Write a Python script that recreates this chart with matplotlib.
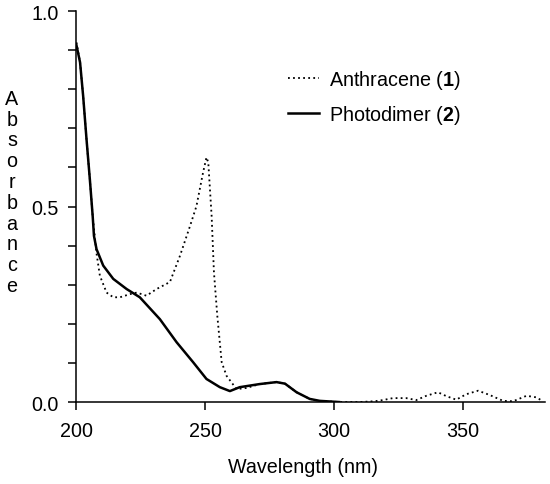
import numpy as np
import matplotlib.pyplot as plt
from matplotlib.ticker import MultipleLocator

plt.rcParams['font.family'] = 'Liberation Sans'
plt.rcParams['mathtext.fontset'] = 'custom'
plt.rcParams['mathtext.rm'] = 'Liberation Sans'
plt.rcParams['mathtext.bf'] = 'Liberation Sans:bold'

# Photodimer (2), solid line
wl_dimer = [200, 201.4, 202.6, 203.9, 205.2, 206.3, 206.8, 207.8, 210.4, 214.3, 219.5,
            224.6, 232.4, 238.9, 245.3, 250.5, 255.7, 259.6, 263.4, 271.2, 277.7, 281,
            285.5, 290.6, 294.5, 302]
abs_dimer = [0.913, 0.869, 0.783, 0.673, 0.57, 0.476, 0.425, 0.391, 0.349, 0.315, 0.289,
             0.268, 0.212, 0.153, 0.102, 0.059, 0.038, 0.028, 0.038, 0.046, 0.051, 0.047,
             0.025, 0.008, 0.003, 0.0]

# Anthracene (1), dotted line
wl_anth = [200, 201.4, 202.6, 203.9, 205.2, 206.3, 207.8, 209.1, 211.7, 214.3, 216.9,
           220.8, 223.4, 227.2, 231.1, 236.3, 240.2, 244.1, 246.6, 249.2, 250.5, 251.2,
           252.5, 253.4, 254.7, 256.4, 258.3, 262.2, 266, 271.2, 277.7, 281, 285.5,
           290.6, 294.5, 302, 310, 315.8, 319, 322.9, 328.1, 332, 335.9, 340.4, 343.7,
           347.5, 351.4, 356, 360.5, 365.7, 369.6, 374.8, 378.6, 381.2]
abs_anth = [0.92, 0.869, 0.783, 0.673, 0.57, 0.476, 0.38, 0.323, 0.28, 0.268, 0.268,
            0.276, 0.28, 0.272, 0.289, 0.307, 0.374, 0.45, 0.501, 0.588, 0.626, 0.613,
            0.476, 0.332, 0.221, 0.102, 0.067, 0.033, 0.036, 0.046, 0.051, 0.047, 0.025,
            0.008, 0.003, 0.0, 0.0, 0.002, 0.005, 0.01, 0.01, 0.005, 0.016, 0.025, 0.015,
            0.006, 0.02, 0.029, 0.018, 0.003, 0.002, 0.016, 0.012, 0.002]

fig = plt.figure(figsize=(5.5, 4.85), dpi=100)
ax = fig.add_axes([0.139, 0.169, 0.852, 0.806])

ax.plot(wl_anth, abs_anth, color='black', lw=1.3, linestyle=(0, (1, 1.8)),
        label=r'Anthracene ($\mathbf{1}$)')
ax.plot(wl_dimer, abs_dimer, color='black', lw=1.8, label=r'Photodimer ($\mathbf{2}$)')

ax.set_xlim(200, 382)
ax.set_ylim(0, 1.0)
ax.set_xticks([200, 250, 300, 350])
ax.set_yticks([0.0, 0.5, 1.0])
ax.yaxis.set_minor_locator(MultipleLocator(0.1))
ax.set_yticklabels(['0.0', '0.5', '1.0'])

for s in ['top', 'right']:
    ax.spines[s].set_visible(False)
for s in ['left', 'bottom']:
    ax.spines[s].set_linewidth(1.1)

ax.tick_params(which='both', direction='out', length=6, width=1.1, labelsize=14.2)
ax.tick_params(axis='y', pad=7)
ax.tick_params(axis='x', pad=8)

ax.set_xlabel('Wavelength (nm)', fontsize=14.2)
ax.xaxis.set_label_coords(0.483, -0.14)
fig.text(12 / 550, 1 - 193 / 485, '\n'.join('Absorbance'), fontsize=14.2,
         ha='center', va='center', linespacing=1.12)

ax.legend(loc='upper left', bbox_to_anchor=(0.451, 0.855), frameon=False,
          fontsize=14.2, handlelength=1.6, handletextpad=0.5, labelspacing=0.6,
          borderpad=0, borderaxespad=0)

fig.savefig('out.png', dpi=100)
